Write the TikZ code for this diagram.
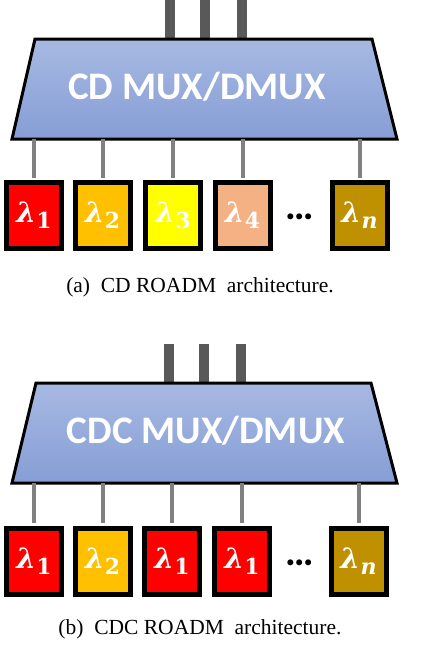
\documentclass[tikz,border=0pt]{standalone}
\usepackage{fontspec}
\setmainfont{Liberation Serif}
\newfontfamily\calib{Carlito}
\newfontfamily\lamfont{DejaVu Serif}
\newcommand{\wl}[2]{{\lamfont\bfseries\itshape\fontsize{28}{30}\selectfont λ}\kern0.5pt\raisebox{-6pt}{\lamfont\bfseries\fontsize{22}{24}\selectfont #2#1}}
\definecolor{barc}{RGB}{89,89,89}
\definecolor{linkc}{RGB}{128,128,128}
\definecolor{trtop}{RGB}{167,185,226}
\definecolor{trbot}{RGB}{134,158,214}
\definecolor{cred}{RGB}{255,0,0}
\definecolor{corange}{RGB}{255,192,0}
\definecolor{cyellow}{RGB}{255,255,0}
\definecolor{cpeach}{RGB}{244,177,131}
\definecolor{cgold}{RGB}{191,144,0}
\tikzset{
  fiberbar/.style={draw=barc, line width=10pt},
  trapbox/.style={draw=black, line width=3pt, line join=miter, top color=trtop, bottom color=trbot},
  muxlabel/.style={text=white, font=\calib\bfseries\fontsize{39}{42}\selectfont, inner sep=0pt},
  link/.style={draw=linkc, line width=4pt},
  wlbox/.style={draw=black, line width=5pt, minimum width=55pt, minimum height=66pt, inner sep=0pt, text=white},
  dotslabel/.style={font=\calib\bfseries\fontsize{40}{42}\selectfont, inner sep=0pt},
  caplabel/.style={font=\fontsize{21.5}{24}\selectfont, inner sep=0pt, anchor=base}
}
\begin{document}
\begin{tikzpicture}[x=1pt, y=-1pt]
\useasboundingbox (0,0) rectangle (428,672);
% ---------- panel (a) ----------
\coordinate (a1t) at (170,0);
\coordinate (a2t) at (205,0);
\coordinate (a3t) at (242,0);
\coordinate (a1b) at (170,42);
\coordinate (a2b) at (205,42);
\coordinate (a3b) at (242,42);
\draw[fiberbar] (a1t) -- (a1b);
\draw[fiberbar] (a2t) -- (a2b);
\draw[fiberbar] (a3t) -- (a3b);
\path[trapbox] (35,39) -- (372,39) -- (397,139) -- (12,139) -- cycle;
\coordinate (atb) at (0,139);
\node[muxlabel] (amux) at (197,87) {CD MUX/DMUX};
\node[wlbox, fill=cred]    (ab1) at (34,215.5)  {\wl{1}{}};
\node[wlbox, fill=corange] (ab2) at (102.5,215.5) {\wl{2}{}};
\node[wlbox, fill=cyellow] (ab3) at (173,215.5) {\wl{3}{}};
\node[wlbox, fill=cpeach]  (ab4) at (242.5,215.5) {\wl{4}{}};
\node[dotslabel] (adots) at (300,217) {…};
\node[wlbox, fill=cgold]   (abn) at (359.5,215.5) {\wl{n}{\itshape}};
\foreach \b in {ab1,ab2,ab3,ab4,abn}{
  \draw[link] ([yshift=2.5pt]\b.north) -- (\b.north |- atb);
}
\node[caplabel] (acap) at (200,292) {(a)\ \ CD ROADM\ \ architecture.};
% ---------- panel (b) ----------
\coordinate (b1t) at (169,344);
\coordinate (b2t) at (204,344);
\coordinate (b3t) at (241,344);
\coordinate (b1b) at (169,386);
\coordinate (b2b) at (204,386);
\coordinate (b3b) at (241,386);
\draw[fiberbar] (b1t) -- (b1b);
\draw[fiberbar] (b2t) -- (b2b);
\draw[fiberbar] (b3t) -- (b3b);
\path[trapbox] (36,383) -- (371,383) -- (397,483) -- (12,483) -- cycle;
\coordinate (btb) at (0,483);
\node[muxlabel] (bmux) at (206,431) {CDC MUX/DMUX};
\node[wlbox, fill=cred]    (bb1) at (34,561)  {\wl{1}{}};
\node[wlbox, fill=corange] (bb2) at (102.5,561) {\wl{2}{}};
\node[wlbox, fill=cred]    (bb3) at (172,561) {\wl{1}{}};
\node[wlbox, fill=cred]    (bb4) at (242,561) {\wl{1}{}};
\node[dotslabel] (bdots) at (300,562.5) {…};
\node[wlbox, fill=cgold]   (bbn) at (358.5,561) {\wl{n}{\itshape}};
\foreach \b in {bb1,bb2,bb3,bb4,bbn}{
  \draw[link] ([yshift=2.5pt]\b.north) -- (\b.north |- btb);
}
\node[caplabel] (bcap) at (200,634) {(b)\ \ CDC ROADM\ \ architecture.};
\end{tikzpicture}
\end{document}
